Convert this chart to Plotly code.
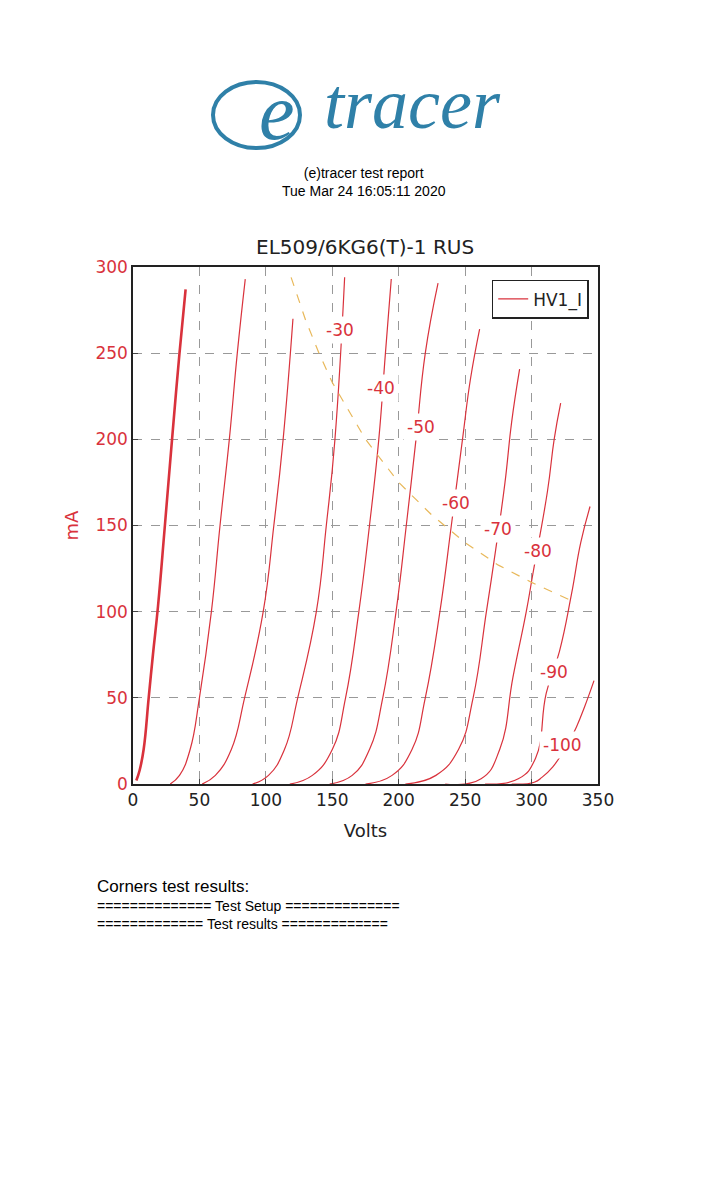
import plotly.graph_objects as go

RED = "#d9323c"
# grid voltage of each curve and its (Volts, mA) points
grid_v = [0, -10, -20, -30, -40, -50, -60, -70, -80, -90, -100]
curve_v = [
    [2.5, 5, 8, 11.8, 15, 18.8, 24.0, 29.5, 35.0, 39.6],
    [28, 35, 43, 50, 59, 65.5, 72.5, 78.5, 84.5],
    [52, 62, 74, 84, 98, 106, 113, 120.4],
    [90, 102, 114, 124, 138, 145.5, 152, 159.3],
    [118, 135, 150, 160, 170, 178, 185, 190, 194.4],
    [148, 165, 178, 188, 198, 205.7, 213, 220, 229.6],
    [175, 195, 210, 220, 231, 239.6, 248, 254, 260.9],
    [205, 228, 245, 256, 266, 273, 280, 285, 291],
    [235, 262, 276, 286, 296, 301, 312, 317, 321.9],
    [265, 290, 303, 311, 321, 330, 337, 344],
    [285, 302, 308, 316, 325, 333.7, 340, 347],
]
curve_i = [
    [2, 8, 20, 50, 75, 103, 150, 201, 250, 287],
    [0, 5, 20, 50, 100, 150, 200, 250, 293],
    [0, 5, 20, 50, 100, 150, 200, 270],
    [0, 5, 20, 50, 100, 150, 200, 294],
    [0, 5, 20, 50, 100, 150, 200, 250, 293],
    [0, 5, 20, 50, 100, 150, 200, 250, 290.6],
    [0, 5, 20, 50, 100, 150, 200, 235, 264],
    [0, 5, 20, 50, 100, 136, 175, 210, 240.7],
    [0, 3, 20, 62, 100, 122, 170, 200, 221],
    [0, 3, 15, 52.6, 77, 110, 140, 161],
    [0, 1, 4, 10, 20, 33, 45, 60],
]
label_v = [155.5, 187, 217, 243, 274.7, 304.8, 316.6, 323.6]
label_i = [263.5, 229.6, 207, 163, 148, 135, 65, 22.6]
label_t = ["-30", "-40", "-50", "-60", "-70", "-80", "-90", "-100"]
pdiss_v = [119, 130, 140, 150, 175, 200, 225, 250, 275, 300, 331]
pdiss_i = [294, 269, 250, 233, 200, 175, 156, 140, 127, 117, 106]

fig = go.Figure()
for k, (xs, ys) in enumerate(zip(curve_v, curve_i)):
    fig.add_trace(go.Scatter(x=xs, y=ys, mode="lines",
                             line=dict(color=RED, width=2.6 if k == 0 else 1.2, shape="spline", smoothing=1.3),
                             name="HV1_I", showlegend=(k == 1)))
fig.add_trace(go.Scatter(x=pdiss_v, y=pdiss_i, mode="lines", line=dict(color="#e8b85a", width=1.2, dash="dash"), showlegend=False))
for xv, yv, t in zip(label_v, label_i, label_t):
    fig.add_annotation(x=xv, y=yv, text=t, showarrow=False, font=dict(color=RED, size=17, family="DejaVu Sans"),
                       bgcolor="white", borderpad=3)

W, H = 728, 1200
L, R, T, B = 125, 590, 259, 776
OFF = 8
def px(x): return (x - OFF - L) / (R - L)
def py(y): return (B - (y - OFF)) / (B - T)

fig.add_shape(type="circle", xref="paper", yref="paper", x0=px(213), x1=px(300), y0=py(148), y1=py(82),
              line=dict(color="#2f80a8", width=4))
fig.add_annotation(xref="paper", yref="paper", x=px(257), y=py(66), text="<i>e</i>", showarrow=False,
                   font=dict(family="Liberation Serif", size=80, color="#2f80a8"))
fig.add_annotation(xref="paper", yref="paper", x=px(412), y=py(62), text="<i>tracer</i>", showarrow=False,
                   font=dict(family="Liberation Serif", size=72, color="#2f80a8"))
fig.add_annotation(xref="paper", yref="paper", x=px(364), y=py(163), text="(e)tracer test report<br>Tue Mar 24 16:05:11 2020",
                   showarrow=False, font=dict(family="Liberation Sans Narrow, Liberation Sans", size=14, color="black"))
fig.add_annotation(xref="paper", yref="paper", x=px(95), y=py(886), xanchor="left", yanchor="middle", align="left",
                   text="Corners test results:", showarrow=False, font=dict(family="Liberation Sans", size=17, color="black"))
fig.add_annotation(xref="paper", yref="paper", x=px(95), y=py(915), xanchor="left", yanchor="middle", align="left",
                   text="============== Test Setup ==============<br>============= Test results =============",
                   showarrow=False, font=dict(family="Liberation Sans", size=14, color="black"))
fig.add_annotation(xref="paper", yref="paper", x=px(365), y=py(233), text="EL509/6KG6(T)-1 RUS", showarrow=False,
                   font=dict(family="DejaVu Sans", size=20, color="#222"))

axcommon = dict(showgrid=True, gridcolor="#999", griddash="dash", gridwidth=1, zeroline=False,
                showline=True, mirror=True, linecolor="#222", linewidth=1.5, ticks="inside", ticklen=5)
fig.update_xaxes(range=[0, 350], dtick=50, title=dict(text="Volts", font=dict(size=18, color="#222")),
                 tickfont=dict(size=17, color="#222"), **axcommon)
fig.update_yaxes(range=[0, 300], dtick=50, title=dict(text="mA", font=dict(size=18, color=RED), standoff=12),
                 tickfont=dict(size=17, color=RED), **axcommon)
fig.update_layout(width=W, height=H, margin=dict(l=L, r=W - R, t=T, b=H - B, autoexpand=False),
                  paper_bgcolor="white", plot_bgcolor="white", font=dict(family="DejaVu Sans"),
                  legend=dict(x=0.98, y=0.975, xanchor="right", yanchor="top", bordercolor="#222", borderwidth=1.5,
                              font=dict(size=17, color="#222"), bgcolor="white"))
fig.write_html("out.html")
